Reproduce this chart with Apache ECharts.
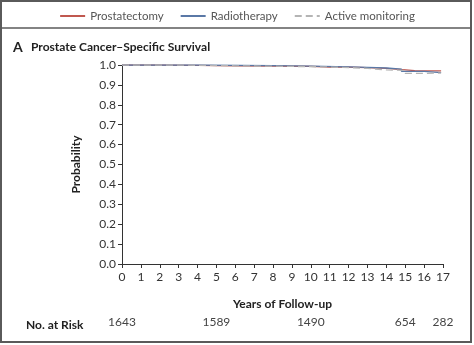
<!DOCTYPE html>
<html>
<head>
<meta charset="utf-8">
<script src="https://cdn.jsdelivr.net/npm/echarts@6/dist/echarts.min.js"></script>
<style>
  html, body { margin: 0; padding: 0; background: #fff; }
  #chart { width: 474px; height: 345px; }
</style>
</head>
<body>
<div id="chart"></div>
<script>
// Kaplan-Meier steps: [year, probability]
var prostatectomy = [[0, 1], [2, 0.998], [4, 0.996], [6, 0.995], [8, 0.993], [10, 0.99], [11, 0.989], [12, 0.987], [13, 0.983], [14, 0.978], [14.7, 0.972], [15.5, 0.97], [16.9, 0.97]];
var radiotherapy = [[0, 1], [4, 0.997], [8, 0.994], [10, 0.991], [12, 0.988], [13, 0.985], [14, 0.979], [14.8, 0.968], [16, 0.962], [16.9, 0.96]];
var activeMonitoring = [[0, 1], [3, 0.996], [6, 0.993], [9, 0.99], [11, 0.987], [12, 0.983], [13, 0.975], [14, 0.973], [15, 0.958], [16, 0.96], [16.9, 0.958]];

var riskYears = [0, 5, 10, 15, 17];
var riskCounts = ['1643', '1589', '1490', '654', '282'];

var font = 'Lato';
var chart = echarts.init(document.getElementById('chart'));

function riskLabel(v) {
  var i = riskYears.indexOf(Math.round(v));
  return i >= 0 && Math.abs(v - riskYears[i]) < 0.01 ? riskCounts[i] : '';
}

var option = {
  backgroundColor: '#fff',
  animation: false,
  textStyle: { fontFamily: font },
  title: [{
    text: 'A',
    left: 8, top: 35,
    textStyle: { fontSize: 14, fontWeight: 'bold', color: '#222', fontFamily: font }
  }, {
    text: 'Prostate Cancer–Specific Survival',
    left: 26, top: 36,
    textStyle: { fontSize: 12, fontWeight: 'bold', color: '#222', fontFamily: font }
  }, {
    text: 'No. at Risk',
    left: 21, top: 314,
    textStyle: { fontSize: 12, fontWeight: 'bold', color: '#222', fontFamily: font }
  }],
  legend: {
    top: 5,
    left: 'center',
    itemWidth: 25,
    itemHeight: 10,
    itemGap: 16,
    itemStyle: { opacity: 0 },
    textStyle: { fontSize: 11.5, color: '#555', fontFamily: font },
    data: ['Prostatectomy', 'Radiotherapy', 'Active monitoring']
  },
  grid: { left: 122, right: 31, top: 65, bottom: 81 },
  xAxis: [{
    type: 'value',
    min: 0, max: 17, interval: 1,
    name: 'Years of Follow-up',
    nameLocation: 'middle',
    nameGap: 34,
    nameTextStyle: { fontSize: 12, fontWeight: 'bold', color: '#222' },
    axisLine: { lineStyle: { color: '#333' } },
    axisTick: { show: true, length: 4, lineStyle: { color: '#333' } },
    axisLabel: { fontSize: 12, color: '#333', margin: 7 },
    splitLine: { show: false }
  }, {
    type: 'value',
    min: 0, max: 17, interval: 1,
    position: 'bottom',
    offset: 44,
    axisLine: { show: false },
    axisTick: { show: false },
    axisLabel: { fontSize: 12, color: '#444', formatter: riskLabel, showMinLabel: true, showMaxLabel: true },
    splitLine: { show: false }
  }],
  yAxis: {
    type: 'value',
    min: 0, max: 1, interval: 0.1,
    name: 'Probability',
    nameLocation: 'middle',
    nameGap: 40,
    nameTextStyle: { fontSize: 12, fontWeight: 'bold', color: '#222' },
    axisLine: { show: true, lineStyle: { color: '#333' } },
    axisTick: { show: true, length: 4, lineStyle: { color: '#333' } },
    axisLabel: { fontSize: 12, color: '#333', margin: 6, formatter: function (v) { return v.toFixed(1); } },
    splitLine: { show: false }
  },
  series: [{
    name: 'Prostatectomy',
    type: 'line', step: 'end', symbol: 'none',
    lineStyle: { color: '#c0584f', width: 1.3 },
    itemStyle: { color: '#c0584f' },
    data: prostatectomy
  }, {
    name: 'Radiotherapy',
    type: 'line', step: 'end', symbol: 'none',
    lineStyle: { color: '#5a78a6', width: 1.3 },
    itemStyle: { color: '#5a78a6' },
    data: radiotherapy
  }, {
    name: 'Active monitoring',
    type: 'line', step: 'end', symbol: 'none',
    lineStyle: { color: '#b4b4b4', width: 1.3, type: [7, 4] },
    itemStyle: { color: '#b4b4b4' },
    data: activeMonitoring
  }],
  graphic: [{
    type: 'rect',
    shape: { x: 1, y: 1, width: 470, height: 341 },
    style: { fill: null, stroke: '#5a5a5a', lineWidth: 2 },
    silent: true
  }, {
    type: 'line',
    shape: { x1: 1, y1: 28, x2: 471, y2: 28 },
    style: { stroke: '#5a5a5a', lineWidth: 1.5 },
    silent: true
  }]
};

chart.setOption(option);
</script>
</body>
</html>
